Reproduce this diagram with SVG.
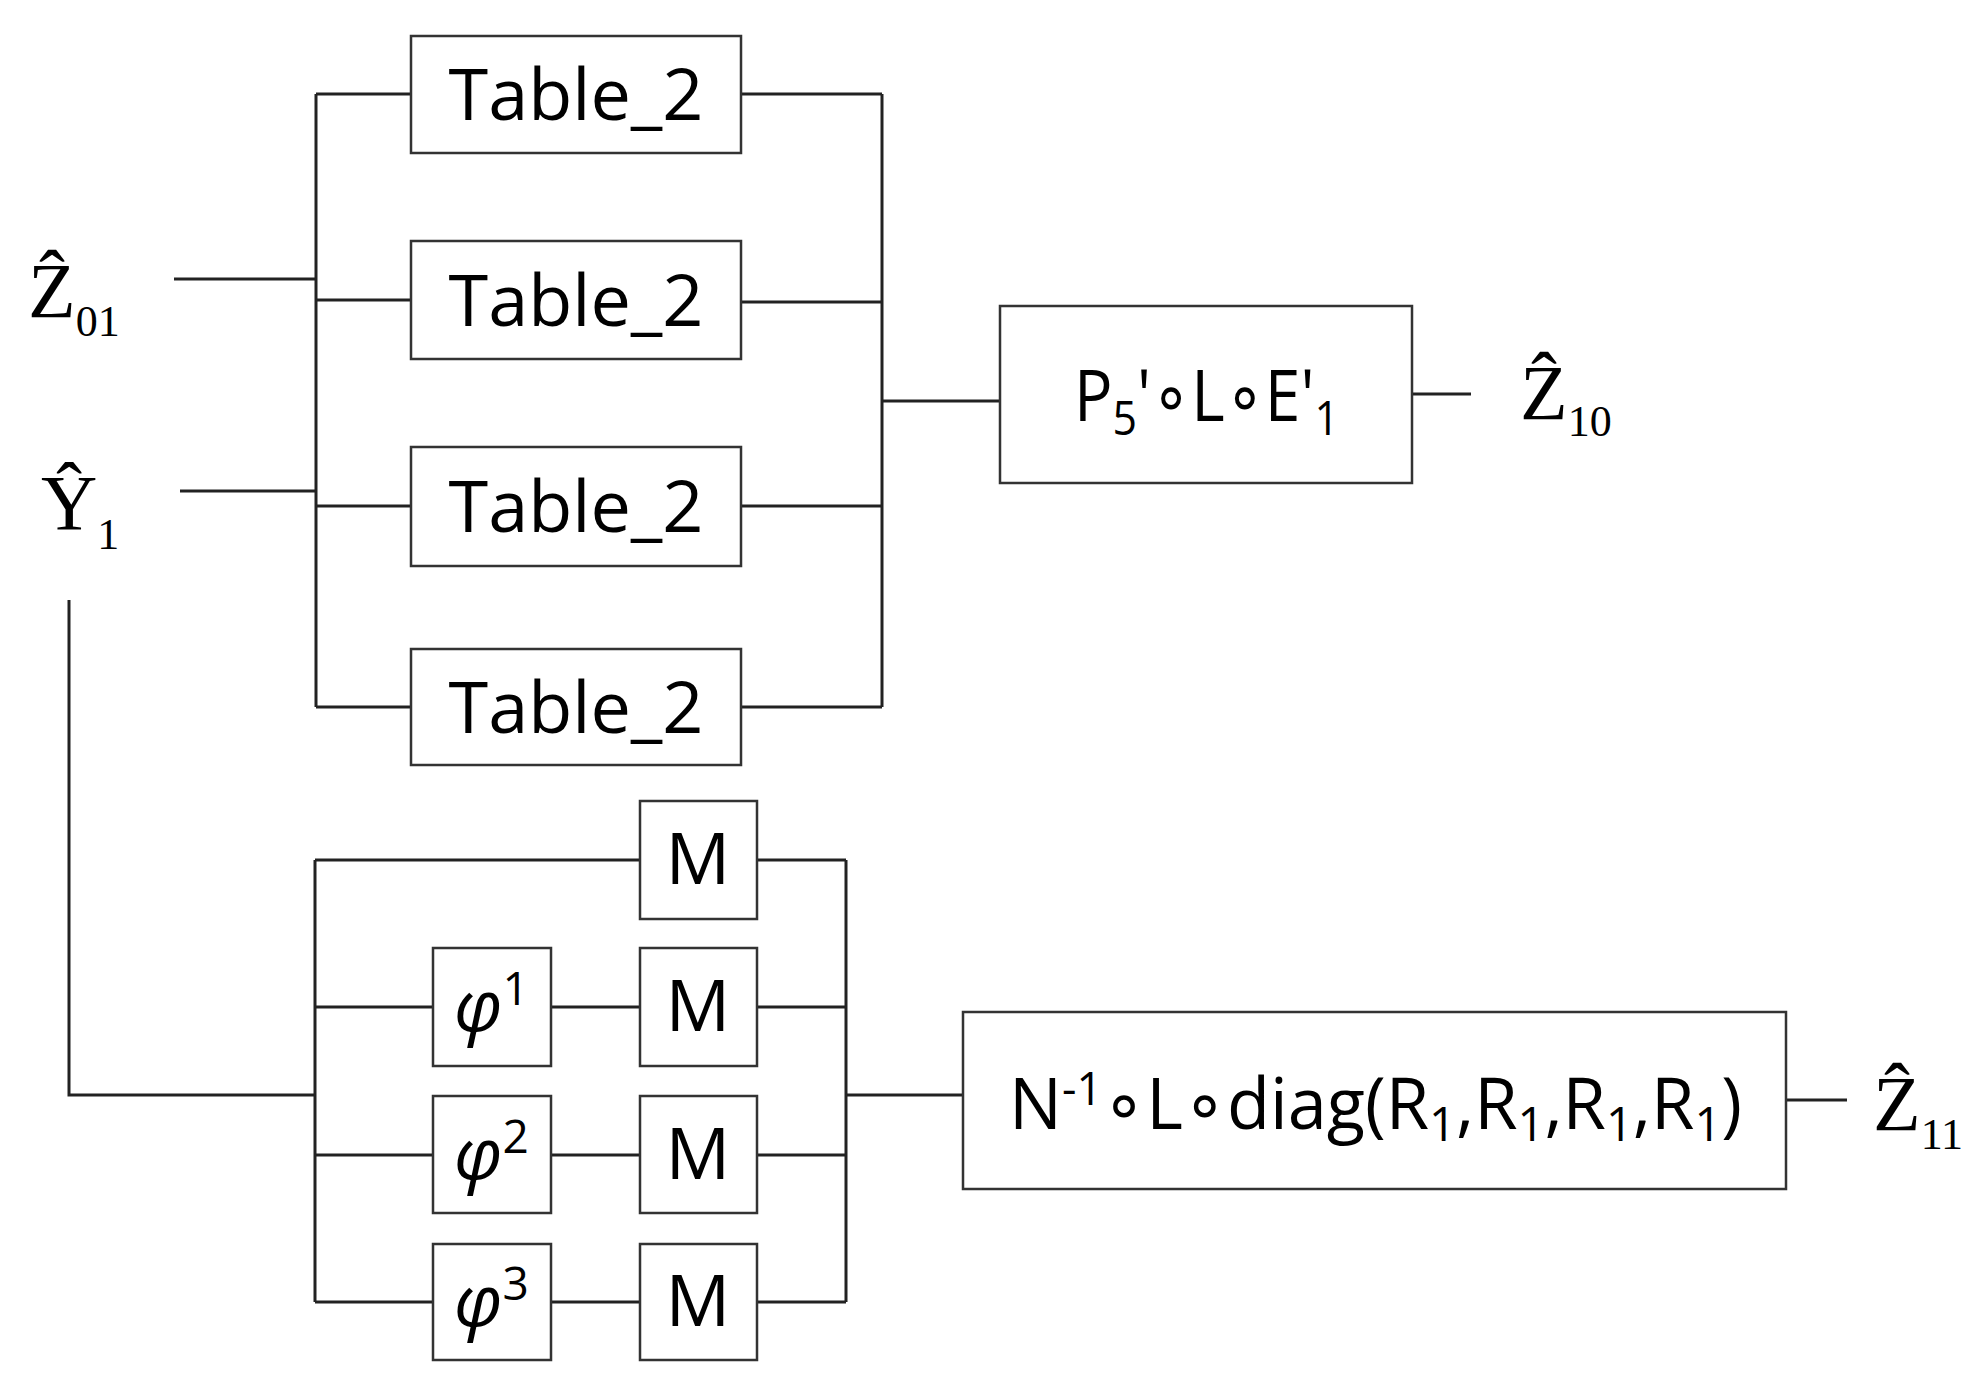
<svg xmlns="http://www.w3.org/2000/svg" width="1982" height="1388" viewBox="0 0 1982 1388">
<style>
.bx{fill:#fff;stroke:#333;stroke-width:2.5}
.ln{fill:none;stroke:#222;stroke-width:3}
.t{font-family:"Open Sans","DejaVu Sans",sans-serif;font-size:72px;fill:#000}
.m{font-family:"Liberation Serif","DejaVu Serif",serif;font-size:78px;fill:#000}
.ms{font-family:"Liberation Serif","Times New Roman",serif;font-size:44px;fill:#000}
</style>
<rect width="1982" height="1388" fill="#fff"/>
<g id="connectors">
<path class="ln" d="M174 279H316M180 491H316M316 94V707M316 94H411M316 300H411M316 506H411M316 707H411"/>
<path class="ln" d="M741 94H882M741 302H882M741 506H882M741 707H882M882 94V707M882 401H1000"/>
<path class="ln" d="M1412 394H1471"/>
<path class="ln" d="M69 600V1095H315M315 860V1302M315 860H640M315 1007H433M315 1155H433M315 1302H433M551 1007H640M551 1155H640M551 1302H640"/>
<path class="ln" d="M757 860H846M757 1007H846M757 1155H846M757 1302H846M846 860V1302M846 1095H964"/>
<path class="ln" d="M1786 1100H1847"/>
</g>
<g id="in_z01"><text class="m" x="28" y="317">Ẑ<tspan class="ms" dy="19">01</tspan></text></g>
<g id="in_y1"><text class="m" x="41" y="529">Ŷ<tspan class="ms" dy="20">1</tspan></text></g>
<g id="t1"><rect class="bx" x="411" y="36" width="330" height="117"/><text class="t" x="576" y="120" text-anchor="middle">Table_2</text></g>
<g id="t2"><rect class="bx" x="411" y="241" width="330" height="118"/><text class="t" x="576" y="326" text-anchor="middle">Table_2</text></g>
<g id="t3"><rect class="bx" x="411" y="447" width="330" height="119"/><text class="t" x="576" y="532" text-anchor="middle">Table_2</text></g>
<g id="t4"><rect class="bx" x="411" y="649" width="330" height="116"/><text class="t" x="576" y="733" text-anchor="middle">Table_2</text></g>
<g id="p"><rect class="bx" x="1000" y="306" width="412" height="177"/><text class="t" x="1074" y="421" textLength="265" lengthAdjust="spacingAndGlyphs">P<tspan font-size="48" dy="14">5</tspan><tspan dy="-14">'∘L∘E'</tspan><tspan font-size="48" dy="14">1</tspan></text></g>
<g id="out_z10"><text class="m" x="1520" y="419">Ẑ<tspan class="ms" dy="17">10</tspan></text></g>
<g id="m1"><rect class="bx" x="640" y="801" width="117" height="118"/><text class="t" x="698" y="884" text-anchor="middle">M</text></g>
<g id="m2"><rect class="bx" x="640" y="948" width="117" height="118"/><text class="t" x="698" y="1031" text-anchor="middle">M</text></g>
<g id="m3"><rect class="bx" x="640" y="1096" width="117" height="117"/><text class="t" x="698" y="1179" text-anchor="middle">M</text></g>
<g id="m4"><rect class="bx" x="640" y="1244" width="117" height="116"/><text class="t" x="698" y="1326" text-anchor="middle">M</text></g>
<g id="phi1"><rect class="bx" x="433" y="948" width="118" height="118"/><text class="t" x="454" y="1031" font-style="italic">φ<tspan font-size="46" font-style="normal" dy="-26">1</tspan></text></g>
<g id="phi2"><rect class="bx" x="433" y="1096" width="118" height="117"/><text class="t" x="454" y="1179" font-style="italic">φ<tspan font-size="46" font-style="normal" dy="-26">2</tspan></text></g>
<g id="phi3"><rect class="bx" x="433" y="1244" width="118" height="116"/><text class="t" x="454" y="1326" font-style="italic">φ<tspan font-size="46" font-style="normal" dy="-26">3</tspan></text></g>
<g id="n"><rect class="bx" x="963" y="1012" width="823" height="177"/><text class="t" x="1009" y="1129" textLength="733" lengthAdjust="spacingAndGlyphs">N<tspan font-size="46" dy="-24">-1</tspan><tspan dy="24">∘L∘diag(R</tspan><tspan font-size="48" dy="12">1</tspan><tspan dy="-12">,R</tspan><tspan font-size="48" dy="12">1</tspan><tspan dy="-12">,R</tspan><tspan font-size="48" dy="12">1</tspan><tspan dy="-12">,R</tspan><tspan font-size="48" dy="12">1</tspan><tspan dy="-12">)</tspan></text></g>
<g id="out_z11"><text class="m" x="1873" y="1130">Ẑ<tspan class="ms" dy="19">11</tspan></text></g>
</svg>
